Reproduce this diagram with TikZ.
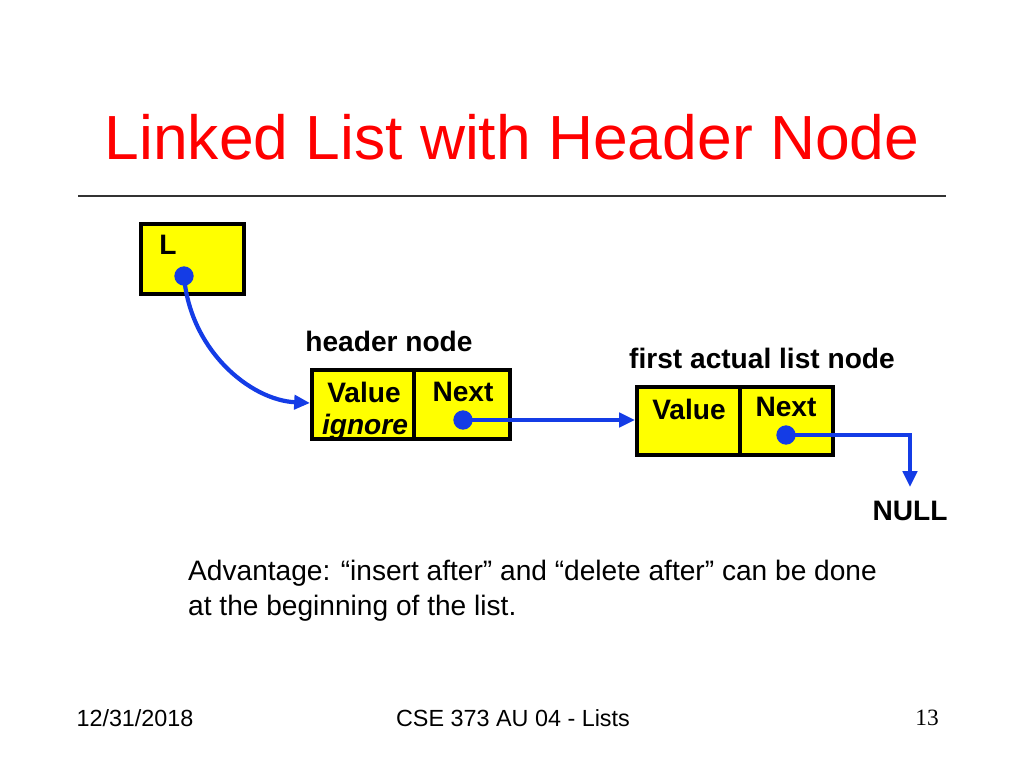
\documentclass[tikz,border=0pt]{standalone}
\usepackage{fontspec}
\setmainfont{Liberation Sans}
\newfontfamily\serifnum{Liberation Serif}
\usetikzlibrary{arrows.meta}
\definecolor{cellyellow}{RGB}{255,255,0}
\definecolor{ptrblue}{RGB}{20,60,230}
\definecolor{titlered}{RGB}{255,0,0}
\tikzstyle{slide}=[
  x=0.02cm, y=-0.02cm, >={Triangle[length=9pt,width=8pt]}
]
\tikzstyle{cell}=[
  draw, fill=cellyellow, line width=2.2pt, inner sep=0pt, anchor=north west
]
\tikzstyle{ptr}=[
  draw=ptrblue, line width=2.4pt, ->, color=ptrblue
]
\tikzstyle{dot}=[
  circle, fill=ptrblue, inner sep=0pt, minimum size=11pt
]
\tikzstyle{lbl}=[
  font=\fontsize{16}{19}\selectfont\bfseries
]
\begin{document}
\begin{tikzpicture}[slide]
\useasboundingbox (0,0) rectangle (1024,768);
\node (title) [text=titlered, font=\fontsize{35.5}{42}\selectfont] at (512,137) {Linked List with Header Node};
\draw [line width=0.6pt, draw=black!80] (78,196) -- (946,196);

% list variable
\node (L) [cell, minimum width=103*0.02cm, minimum height=70*0.02cm] at (139,222) {};
\node (Ltext) [lbl] at (168,245) {L};
\node (Ldot) [dot] at (184,276) {};

% header node
\node (hdrlabel) [lbl] at (389,341) {header node};
\node (hval) [cell, minimum width=102*0.02cm, minimum height=69*0.02cm] at (310,368) {};
\node (hnext) [cell, minimum width=96*0.02cm, minimum height=69*0.02cm] at (412,368) {};
\node (hvaltext) [lbl] at (364,392) {Value};
\node (hign) [lbl, font=\fontsize{16}{19}\selectfont\bfseries\itshape] at (365,427) {ignore};
\node (hnexttext) [lbl] at (463,392) {Next};
\node (hdot) [dot] at (463,420) {};

% first node
\node (firstlabel) [lbl] at (762,358) {first actual list node};
\node (fval) [cell, minimum width=103*0.02cm, minimum height=68*0.02cm] at (635,385) {};
\node (fnext) [cell, minimum width=93*0.02cm, minimum height=68*0.02cm] at (738,385) {};
\node (fvaltext) [lbl] at (689,409) {Value};
\node (fnexttext) [lbl] at (786,407) {Next};
\node (fdot) [dot] at (786,435) {};

\node (null) [lbl] at (910,511) {NULL};
\coordinate (nullend) at (910,487);

\draw [ptr] (Ldot.center) .. controls (190,350) and (250,400) .. (hval.west |- 0,403);
\draw [ptr] (hdot.center) -- (fval.west |- hdot);
\draw [ptr] (fdot.center) -| (nullend);

\node (adv) [anchor=north west, align=left, font=\fontsize{16}{19.6}\selectfont] at (182,554)
  {Advantage: “insert after” and “delete after” can be done\\at the beginning of the list.};

\node (date) [font=\fontsize{13.3}{15}\selectfont] at (135,718) {12/31/2018};
\node (course) [font=\fontsize{13.3}{15}\selectfont] at (513,718) {CSE 373 AU 04 - Lists};
\node (page) [font=\fontsize{13.3}{15}\selectfont\serifnum] at (927,718) {13};
\end{tikzpicture}
\end{document}
